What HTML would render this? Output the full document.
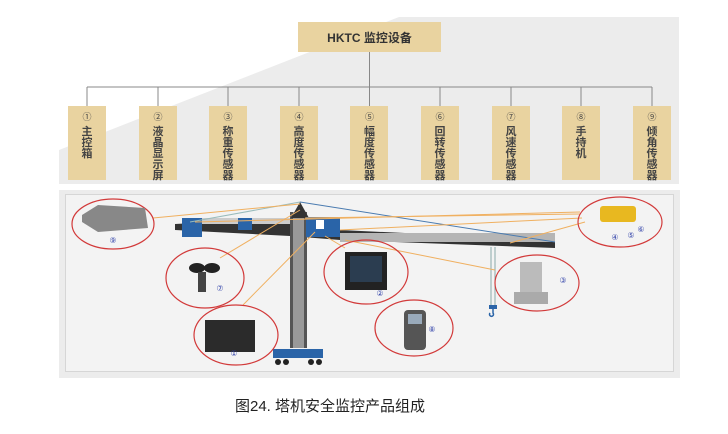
<!DOCTYPE html>
<html><head><meta charset="utf-8"><style>
body{margin:0;width:728px;height:434px;background:#fff;overflow:hidden;font-family:"Liberation Sans","Noto Sans CJK SC",sans-serif}
</style></head><body>
<svg width="728" height="434" viewBox="0 0 728 434" xmlns="http://www.w3.org/2000/svg" style="position:absolute;left:0;top:0">
<polygon points="59,150 399,17 679,17 679,184 59,184" fill="#ececec"/>
<rect x="298" y="22" width="143" height="30" fill="#e9d3a0"/>
<text x="369.5" y="42" font-size="12" font-weight="bold" text-anchor="middle" fill="#333" font-family="Liberation Sans,Noto Sans CJK SC,sans-serif">HKTC 监控设备</text>
<g stroke="#888" stroke-width="1" fill="none">
<line x1="369.5" y1="52" x2="369.5" y2="87"/>
<line x1="87" y1="87" x2="652" y2="87"/>
<line x1="87" y1="87" x2="87" y2="106"/><line x1="158" y1="87" x2="158" y2="106"/><line x1="228" y1="87" x2="228" y2="106"/>
<line x1="299" y1="87" x2="299" y2="106"/><line x1="369.5" y1="87" x2="369.5" y2="106"/><line x1="440" y1="87" x2="440" y2="106"/>
<line x1="511" y1="87" x2="511" y2="106"/><line x1="581" y1="87" x2="581" y2="106"/><line x1="652" y1="87" x2="652" y2="106"/>
</g>
<g fill="#e9d3a0">
<rect x="68" y="106" width="38" height="74"/><rect x="139" y="106" width="38" height="74"/><rect x="209" y="106" width="38" height="74"/>
<rect x="280" y="106" width="38" height="74"/><rect x="350" y="106" width="38" height="74"/><rect x="421" y="106" width="38" height="74"/>
<rect x="492" y="106" width="38" height="74"/><rect x="562" y="106" width="38" height="74"/><rect x="633" y="106" width="38" height="74"/>
</g>
<g font-size="11" font-weight="bold" fill="#444" text-anchor="middle" font-family="Noto Sans CJK SC,sans-serif">
<g font-size="9" font-weight="normal"><text x="87" y="120">①</text><text x="158" y="120">②</text><text x="228" y="120">③</text><text x="299" y="120">④</text><text x="369.5" y="120">⑤</text><text x="440" y="120">⑥</text><text x="511" y="120">⑦</text><text x="581" y="120">⑧</text><text x="652" y="120">⑨</text></g>
<text x="87" y="135">主</text><text x="87" y="146">控</text><text x="87" y="157">箱</text>
<text x="158" y="135">液</text><text x="158" y="146">晶</text><text x="158" y="157">显</text><text x="158" y="168">示</text><text x="158" y="179">屏</text>
<text x="228" y="135">称</text><text x="228" y="146">重</text><text x="228" y="157">传</text><text x="228" y="168">感</text><text x="228" y="179">器</text>
<text x="299" y="135">高</text><text x="299" y="146">度</text><text x="299" y="157">传</text><text x="299" y="168">感</text><text x="299" y="179">器</text>
<text x="369.5" y="135">幅</text><text x="369.5" y="146">度</text><text x="369.5" y="157">传</text><text x="369.5" y="168">感</text><text x="369.5" y="179">器</text>
<text x="440" y="135">回</text><text x="440" y="146">转</text><text x="440" y="157">传</text><text x="440" y="168">感</text><text x="440" y="179">器</text>
<text x="511" y="135">风</text><text x="511" y="146">速</text><text x="511" y="157">传</text><text x="511" y="168">感</text><text x="511" y="179">器</text>
<text x="581" y="135">手</text><text x="581" y="146">持</text><text x="581" y="157">机</text>
<text x="652" y="135">倾</text><text x="652" y="146">角</text><text x="652" y="157">传</text><text x="652" y="168">感</text><text x="652" y="179">器</text>
</g>
<rect x="59" y="190" width="621" height="188" fill="#ececec"/>
<rect x="65.5" y="194.5" width="608" height="177" fill="#f3f3f3" stroke="#d6d6d6"/>
<g>
<polygon points="175,224 290,218 340,230 555,240 555,248 340,240 290,236 175,230" fill="#333"/>
<rect x="200" y="218" width="90" height="6" fill="#ccc"/>
<rect x="340" y="233" width="215" height="9" fill="#b5b5b5"/>
<rect x="182" y="218" width="20" height="19" fill="#2a64a8"/>
<rect x="238" y="218" width="14" height="12" fill="#2a64a8"/>
<rect x="290" y="212" width="17" height="136" fill="#555"/>
<rect x="293" y="212" width="11" height="136" fill="#999"/>
<polygon points="300,202 291,218 309,218" fill="#333"/>
<rect x="306" y="217" width="34" height="20" fill="#2a64a8"/>
<rect x="316" y="220" width="8" height="9" fill="#fff"/>
<rect x="273" y="349" width="50" height="9" fill="#2a64a8"/>
<circle cx="278" cy="362" r="3" fill="#222"/><circle cx="286" cy="362" r="3" fill="#222"/><circle cx="311" cy="362" r="3" fill="#222"/><circle cx="319" cy="362" r="3" fill="#222"/>
<line x1="491" y1="247" x2="491" y2="308" stroke="#8aa"/><line x1="495" y1="247" x2="495" y2="308" stroke="#8aa"/>
<rect x="489" y="305" width="8" height="4" fill="#2a64a8"/><path d="M493 309 v4 a2 2 0 1 1 -3 0" stroke="#2a64a8" fill="none" stroke-width="1.5"/>
<line x1="300" y1="202" x2="555" y2="242" stroke="#4a7bb0"/>
<line x1="300" y1="202" x2="190" y2="222" stroke="#9bb"/>
</g>
<g stroke="#f0b060" stroke-width="1" fill="none">
<line x1="153" y1="218" x2="300" y2="204"/>
<line x1="580" y1="212" x2="195" y2="222"/>
<line x1="580" y1="214" x2="305" y2="218"/>
<line x1="582" y1="218" x2="340" y2="230"/>
<line x1="585" y1="222" x2="510" y2="243"/>
<line x1="495" y1="270" x2="345" y2="240"/>
<line x1="220" y1="258" x2="300" y2="210"/>
<line x1="243" y1="305" x2="315" y2="232"/>
<line x1="345" y1="248" x2="325" y2="236"/>
</g>
<g fill="none" stroke="#d23a3a" stroke-width="1.2">
<ellipse cx="113" cy="224" rx="41" ry="25"/>
<ellipse cx="205" cy="278" rx="39" ry="30"/>
<ellipse cx="236" cy="335" rx="42" ry="30"/>
<ellipse cx="366" cy="272" rx="42" ry="32"/>
<ellipse cx="414" cy="328" rx="39" ry="28"/>
<ellipse cx="537" cy="283" rx="42" ry="28"/>
<ellipse cx="620" cy="222" rx="42" ry="25"/>
</g>
<polygon points="82,215 98,205 145,208 148,228 98,232 82,222" fill="#888"/>
<rect x="205" y="320" width="50" height="32" fill="#2b2b2b"/>
<rect x="345" y="252" width="42" height="38" fill="#222"/><rect x="350" y="256" width="32" height="26" fill="#2b3d50"/>
<rect x="404" y="310" width="22" height="40" rx="4" fill="#555"/><rect x="408" y="314" width="14" height="10" fill="#9ab"/>
<rect x="520" y="262" width="22" height="38" fill="#bbb"/><rect x="514" y="292" width="34" height="12" fill="#aaa"/>
<rect x="600" y="206" width="36" height="16" rx="3" fill="#e8b820"/>
<ellipse cx="197" cy="268" rx="8" ry="5" fill="#222"/><ellipse cx="212" cy="268" rx="8" ry="5" fill="#222"/><rect x="198" y="272" width="8" height="20" fill="#444"/>
<g font-size="8" fill="#3344aa" text-anchor="middle" font-family="DejaVu Sans,sans-serif">
<text x="113" y="243">⑨</text><text x="220" y="291">⑦</text><text x="234" y="356">①</text><text x="380" y="296">②</text><text x="432" y="332">⑧</text><text x="563" y="283">③</text>
<text x="615" y="240">④</text><text x="631" y="238">⑤</text><text x="641" y="232">⑥</text>
</g>
<text x="235" y="411" font-size="15" fill="#222" font-family="Liberation Sans,Noto Sans CJK SC,sans-serif">图24. 塔机安全监控产品组成</text>
</svg>
</body></html>
